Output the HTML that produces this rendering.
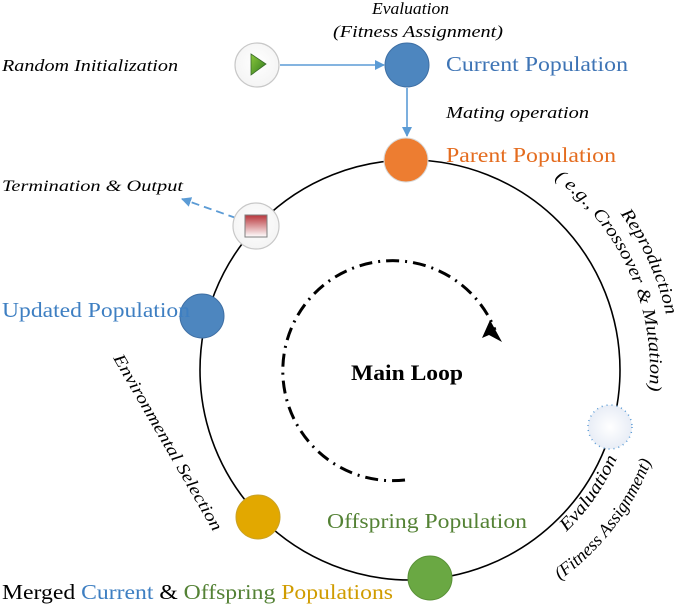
<!DOCTYPE html>
<html><head><meta charset="utf-8"><style>
html,body{margin:0;padding:0;background:#fff;}
svg{display:block;}
text{font-family:"Liberation Serif",serif;}
</style></head><body>
<svg width="685" height="610" viewBox="0 0 685 610" xmlns="http://www.w3.org/2000/svg">
<defs>
<radialGradient id="wg" cx="50%" cy="45%" r="60%"><stop offset="0%" stop-color="#fff"/><stop offset="100%" stop-color="#f3f3f3"/></radialGradient>
<linearGradient id="rg" x1="0" y1="0" x2="0" y2="1"><stop offset="0%" stop-color="#b8343a"/><stop offset="100%" stop-color="#fff"/></linearGradient>
<linearGradient id="gg" x1="0" y1="0" x2="1" y2="1"><stop offset="0%" stop-color="#8cc83c"/><stop offset="100%" stop-color="#2f7a1e"/></linearGradient>
<radialGradient id="dg"><stop offset="0%" stop-color="#fff"/><stop offset="100%" stop-color="#e8edf6"/></radialGradient>
<marker id="ab" markerWidth="10" markerHeight="10" refX="9" refY="5" orient="auto" markerUnits="userSpaceOnUse"><path d="M0,0 L10,5 L0,10 Z" fill="#5b9bd5"/></marker>
<path id="rep1" d="M 410 108 A 262 262 0 0 1 410 632"/>
<path id="rep2" d="M 410 130 A 240 240 0 0 1 410 610"/>
<path id="ev1" d="M 185 370 A 225 225 0 0 0 635 370"/>
<path id="ev2" d="M 152 370 A 258 258 0 0 0 668 370"/>
</defs>

<circle cx="410" cy="370" r="210" fill="none" stroke="#000" stroke-width="1.6"/>

<path d="M 405 480 A 110 110 0 1 1 495 330" fill="none" stroke="#000" stroke-width="3" stroke-dasharray="13,6,2,6"/>
<path d="M 490 320 L 502 342 L 489 335 L 482 338 Z" fill="#000"/>
<text x="351" y="380" font-size="22" font-weight="bold" textLength="112" lengthAdjust="spacingAndGlyphs">Main Loop</text>

<line x1="280" y1="65" x2="384" y2="65" stroke="#5b9bd5" stroke-width="1.6" marker-end="url(#ab)"/>
<line x1="407" y1="88" x2="407" y2="136" stroke="#5b9bd5" stroke-width="1.6" marker-end="url(#ab)"/>
<line x1="236" y1="218" x2="182" y2="199" stroke="#5b9bd5" stroke-width="1.8" stroke-dasharray="8,5" marker-end="url(#ab)"/>

<circle cx="257" cy="65" r="22" fill="url(#wg)" stroke="#c8c8c8" stroke-width="1.2"/>
<path d="M 251 54 L 266 64 L 251 75 Z" fill="url(#gg)" stroke="#3a6b2a" stroke-width="0.8"/>
<circle cx="407" cy="65" r="22" fill="#4d86bf" stroke="#3f70a5" stroke-width="1"/>
<circle cx="406" cy="160" r="22" fill="#ed7d31" stroke="#d9d9d9" stroke-width="1"/>
<circle cx="256" cy="226" r="23" fill="url(#wg)" stroke="#c8c8c8" stroke-width="1.2"/>
<rect x="245" y="215" width="22" height="22" fill="url(#rg)" stroke="#7f7f7f" stroke-width="1"/>
<circle cx="202" cy="316" r="22" fill="#4d86bf" stroke="#3f70a5" stroke-width="1"/>
<circle cx="610" cy="427" r="22" fill="url(#dg)" stroke="#5b9bd5" stroke-width="1.5" stroke-dasharray="1,4"/>
<circle cx="258" cy="517" r="22" fill="#e2a800" stroke="#c9a227" stroke-width="1"/>
<circle cx="430" cy="578" r="22" fill="#6aa843" stroke="#5a9238" stroke-width="1"/>

<text x="372" y="14" font-size="17" font-style="italic" textLength="77" lengthAdjust="spacingAndGlyphs">Evaluation</text>
<text x="333" y="37" font-size="17" font-style="italic" textLength="170" lengthAdjust="spacingAndGlyphs">(Fitness Assignment)</text>
<text x="2" y="71" font-size="17" font-style="italic" textLength="176" lengthAdjust="spacingAndGlyphs">Random Initialization</text>
<text x="446" y="71" font-size="21" fill="#3e74b5" textLength="182" lengthAdjust="spacingAndGlyphs">Current Population</text>
<text x="446" y="118" font-size="17" font-style="italic" textLength="143" lengthAdjust="spacingAndGlyphs">Mating operation</text>
<text x="446" y="162" font-size="21" fill="#e46c1f" textLength="170" lengthAdjust="spacingAndGlyphs">Parent Population</text>
<text x="2" y="191" font-size="16" font-style="italic" textLength="181" lengthAdjust="spacingAndGlyphs">Termination &amp; Output</text>
<text x="2" y="317" font-size="21" fill="#3e7fc2" textLength="188" lengthAdjust="spacingAndGlyphs">Updated Population</text>
<text x="327" y="528" font-size="21" fill="#548235" textLength="200" lengthAdjust="spacingAndGlyphs">Offspring Population</text>
<text transform="translate(113,358) rotate(60)" font-size="17" font-style="italic" textLength="201" lengthAdjust="spacingAndGlyphs">Environmental Selection</text>
<text x="2" y="599" font-size="21" textLength="391" lengthAdjust="spacingAndGlyphs">Merged <tspan fill="#3e7fc2">Current</tspan> &amp; <tspan fill="#548235">Offspring</tspan> <tspan fill="#d09c00">Populations</tspan></text>

<text font-size="18" font-style="italic"><textPath href="#rep1" startOffset="244" textLength="112" lengthAdjust="spacingAndGlyphs">Reproduction</textPath></text>
<text font-size="18" font-style="italic"><textPath href="#rep2" startOffset="155" textLength="243" lengthAdjust="spacingAndGlyphs">( e.g., Crossover &amp; Mutation)</textPath></text>
<text font-size="18" font-style="italic"><textPath href="#ev1" startOffset="526" textLength="90" lengthAdjust="spacingAndGlyphs">Evaluation</textPath></text>
<text font-size="18" font-style="italic"><textPath href="#ev2" startOffset="565" textLength="152" lengthAdjust="spacingAndGlyphs">(Fitness Assignment)</textPath></text>
</svg>
</body></html>
